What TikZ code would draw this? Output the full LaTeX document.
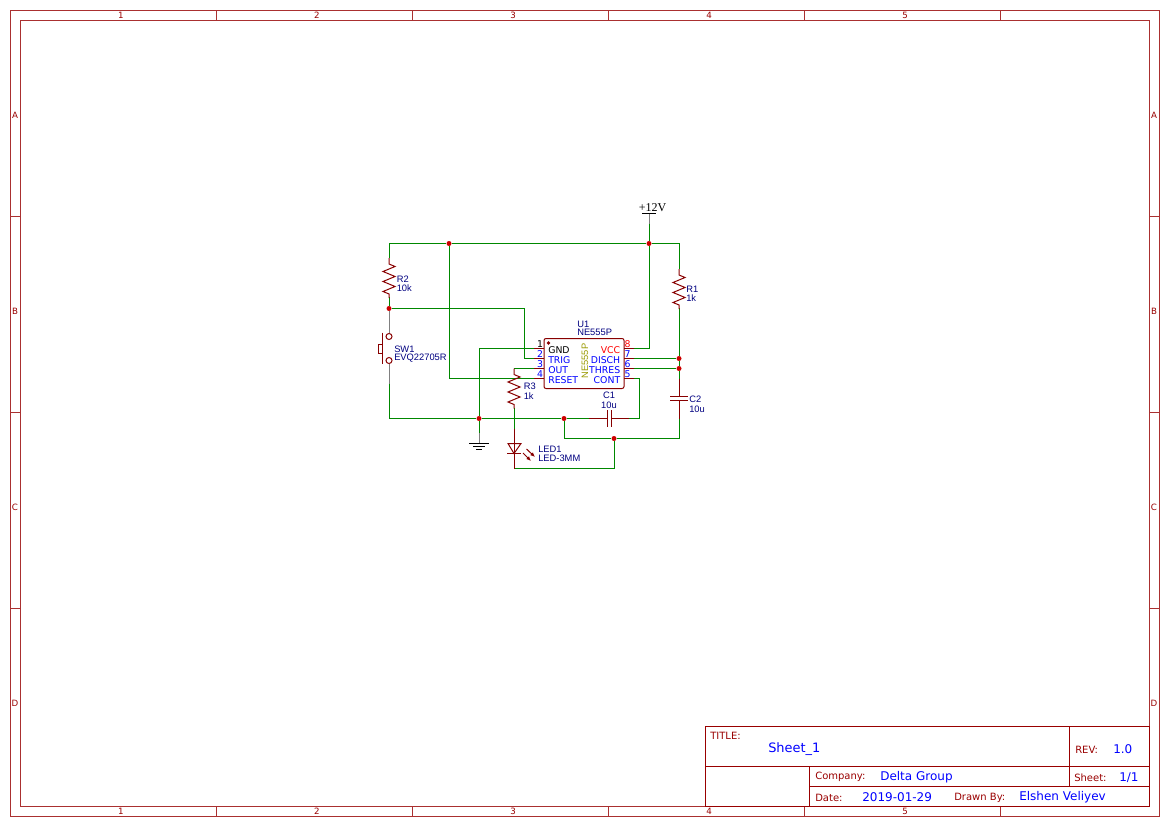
\documentclass[tikz,border=0pt]{standalone}
\usepackage{fontspec}
\usetikzlibrary{arrows.meta,backgrounds}
\setmainfont{DejaVu Sans}
\newfontfamily\partfont{Liberation Sans}
\newfontfamily\railfont{Liberation Serif}
\definecolor{framered}{HTML}{990000}
\definecolor{sheetred}{HTML}{AA3030}
\definecolor{wiregreen}{HTML}{008800}
\definecolor{dotred}{HTML}{CC0000}
\definecolor{partred}{HTML}{880000}
\definecolor{namenavy}{HTML}{000080}
\definecolor{valueblue}{HTML}{0000FF}
\definecolor{pinolive}{HTML}{999900}
\tikzset{
  framel/.style={draw=framered, line width=0.75pt},
  sheetl/.style={draw=sheetred, line width=0.75pt},
  wire/.style={draw=wiregreen, line width=0.75pt},
  part/.style={draw=partred, line width=0.75pt},
  lead/.style={draw=gray, line width=0.75pt},
  junction/.style={circle, fill=dotred, inner sep=0pt, minimum size=3.75pt},
  txt/.style={inner sep=0pt, anchor=west},
  ticklabel/.style={inner sep=0pt, text=framered, font=\fontsize{6.5}{7}\selectfont},
  partname/.style={txt, text=namenavy, font=\partfont\fontsize{7}{8}\selectfont},
  pinname/.style={inner sep=0pt, text=valueblue, font=\fontsize{7}{8}\selectfont},
  pinnum/.style={inner sep=0pt, text=valueblue, font=\fontsize{7}{8}\selectfont},
  blocklabel/.style={txt, text=framered, font=\fontsize{7.5}{9}\selectfont},
  blockvalue/.style={txt, text=valueblue, font=\fontsize{9}{10}\selectfont},
  resistor/.pic={\draw[part] (0,0) -- ++(0,6) -- ++(6,2.5) -- ++(-12,5) -- ++(12,5) -- ++(-12,5) -- ++(12,5) -- ++(-12,5) -- ++(6,2.5) -- ++(0,4);}
}
\begin{document}
\begin{tikzpicture}[x=0.75pt, y=-0.75pt]
    \useasboundingbox (0,0) rectangle (1169,827);

    % sheet frame
    \draw[sheetl] (10,10.5) rectangle (1159,816.5);
    \draw[sheetl] (20,20.5) rectangle (1149,806.5);
    \foreach \x in {216,412,608,804,1000} {
        \draw[sheetl] (\x,10.5) -- (\x,20.5);
        \draw[sheetl] (\x,806.5) -- (\x,816.5);
    }
    \foreach \y in {216.5,412.5,608.5} {
        \draw[sheetl] (10,\y) -- (20,\y);
        \draw[sheetl] (1149,\y) -- (1159,\y);
    }
    \foreach \n/\x in {1/121,2/317,3/513,4/709,5/905} {
        \node[ticklabel] (top\n) at (\x,15.5) {\n};
        \node[ticklabel] (bot\n) at (\x,811.5) {\n};
    }
    \foreach \n/\y in {A/115.5,B/311.5,C/507.5,D/703.5} {
        \node[ticklabel] (left\n) at (15,\y) {\n};
        \node[ticklabel] (right\n) at (1154,\y) {\n};
    }

    % title block
    \draw[framel] (705,726.5) rectangle (1149,806.5);
    \draw[framel] (705,766.5) -- (1149,766.5);
    \draw[framel] (809.5,786.5) -- (1149,786.5);
    \draw[framel] (809.5,766.5) -- (809.5,806.5);
    \draw[framel] (1069.5,726.5) -- (1069.5,786.5);
    \node[blocklabel] (lbltitle) at (710,735.5) {TITLE:};
    \node[txt, text=valueblue, font=\fontsize{9.7}{11}\selectfont] (valtitle) at (768,749) {Sheet\_1};
    \node[blocklabel] (lblrev) at (1075,749.5) {REV:};
    \node[blockvalue] (valrev) at (1113,749.5) {1.0};
    \node[blocklabel] (lblcompany) at (815,777) {Company:};
    \node[blockvalue] (valcompany) at (880,777) {Delta Group};
    \node[blocklabel] (lblsheet) at (1074,778) {Sheet:};
    \node[blockvalue] (valsheet) at (1119,778) {1/1};
    \node[blocklabel] (lbldate) at (815,797.5) {Date:};
    \node[blockvalue] (valdate) at (862,797.5) {2019-01-29};
    \node[blocklabel] (lbldrawn) at (954,797.5) {Drawn By:};
    \node[blockvalue] (valdrawn) at (1019,797.5) {Elshen Veliyev};

    % junctions
    \node[junction] (jtopa) at (449,243.5) {};
    \node[junction] (jtopb) at (649,243.5) {};
    \node[junction] (jsw) at (389,308.5) {};
    \node[junction] (jdis) at (679,358.5) {};
    \node[junction] (jthr) at (679,368.5) {};
    \node[junction] (jgnd) at (479,418.5) {};
    \node[junction] (jcap) at (564,418.5) {};
    \node[junction] (jled) at (614,438.5) {};

    % chip
    \node[draw=partred, line width=0.75pt, rounded corners=1.5pt, minimum width=60pt, minimum height=37.5pt, inner sep=0pt] (u1) at (584,363.5) {};
    \foreach \n/\y in {1/348.5,2/358.5,3/368.5,4/378.5} {
        \coordinate (pin\n) at (534,\y);
        \draw[part] (pin\n) -- (544,\y);
    }
    \foreach \n/\y in {8/348.5,7/358.5,6/368.5,5/378.5} {
        \coordinate (pin\n) at (634,\y);
        \draw[part] (pin\n) -- (624,\y);
    }
    \fill[partred] (548.5,343) circle (1.9);
    \node[pinname, anchor=west, text=black] (lblgnd) at (548,350) {GND};
    \node[pinname, anchor=west] (lbltrig) at (548,360) {TRIG};
    \node[pinname, anchor=west] (lblout) at (548,370) {OUT};
    \node[pinname, anchor=west] (lblreset) at (548,380) {RESET};
    \node[pinname, anchor=east, text=red] (lblvcc) at (620.5,350) {VCC};
    \node[pinname, anchor=east] (lbldisch) at (620.5,360) {DISCH};
    \node[pinname, anchor=east] (lblthres) at (620.5,370) {THRES};
    \node[pinname, anchor=east] (lblcont) at (620.5,380) {CONT};
    \node[inner sep=0pt, rotate=90, text=pinolive, font=\partfont\fontsize{7}{8}\selectfont] (lblchip) at (585,361) {NE555P};
    \node[pinnum, text=black] (num1) at (540,344) {1};
    \foreach \n/\y in {2/354,3/364,4/374} {
        \node[pinnum] (num\n) at (540,\y) {\n};
    }
    \node[pinnum, text=red] (num8) at (627.5,344) {8};
    \foreach \n/\y in {7/354,6/364,5/374} {
        \node[pinnum] (num\n) at (627.5,\y) {\n};
    }
    \node[partname] (u1name) at (577,324) {U1};
    \node[partname] (u1part) at (577,332.5) {NE555P};

    % resistors
    \coordinate (r1top) at (679,269);
    \coordinate (r1bot) at (679,308);
    \coordinate (r2top) at (389,258);
    \coordinate (r2bot) at (389,297);
    \coordinate (r3top) at (514,368.5);
    \coordinate (r3bot) at (514,407.5);
    \pic at (r1top) {resistor};
    \pic at (r2top) {resistor};
    \pic at (r3top) {resistor};
    \node[partname] (r1name) at (686,289) {R1};
    \node[partname] (r1val) at (686,298.5) {1k};
    \node[partname] (r2name) at (396.5,279.5) {R2};
    \node[partname] (r2val) at (396.5,288.5) {10k};
    \node[partname] (r3name) at (523.5,386.5) {R3};
    \node[partname] (r3val) at (523.5,396) {1k};

    % capacitors
    \coordinate (c1l) at (589,418.5);
    \coordinate (c1r) at (629,418.5);
    \coordinate (c2t) at (679,378.5);
    \coordinate (c2b) at (679,418.5);
    \draw[part] (c1l) -- (607,418.5) (611,418.5) -- (c1r);
    \draw[part] (607,410) -- (607,427) (611,410) -- (611,427);
    \draw[part] (c2t) -- (679,396.5) (679,400.5) -- (c2b);
    \draw[part] (670,396.5) -- (688,396.5) (670,400.5) -- (688,400.5);
    \node[partname, anchor=center] (c1name) at (609,395.5) {C1};
    \node[partname, anchor=center] (c1val) at (609,405) {10u};
    \node[partname] (c2name) at (689,399) {C2};
    \node[partname] (c2val) at (689,409) {10u};

    % led
    \coordinate (ledt) at (514,428.5);
    \coordinate (ledb) at (514,468.5);
    \draw[part] (ledt) -- (ledb);
    \draw[part] (508,443.5) -- (521,443.5) -- (514,453.5) -- cycle;
    \draw[part] (507,453.5) -- (521,453.5);
    \draw[part, -{Latex[length=3.5pt,width=3pt]}] (526.5,449) -- (535,457);
    \draw[part, -{Latex[length=3.5pt,width=3pt]}] (523,453) -- (531,461);
    \node[partname] (ledname) at (538,449) {LED1};
    \node[partname] (ledval) at (538,458) {LED-3MM};

    % switch
    \coordinate (swb) at (389,383.5);
    \node[draw=partred, circle, line width=0.75pt, inner sep=0pt, minimum size=4.5pt] (swa) at (389,336.5) {};
    \node[draw=partred, circle, line width=0.75pt, inner sep=0pt, minimum size=4.5pt] (swc) at (389,360.5) {};
    \draw[partred, line width=1.2pt] (382.5,332.5) -- (382.5,364);
    \draw[part] (382.5,344) -- (378.5,344) -- (378.5,353) -- (382.5,353);
    \node[partname] (swname) at (394,349) {SW1};
    \node[partname] (swval) at (394,358) {EVQ22705R};

    % power and ground
    \coordinate (vcctop) at (649,213.5);
    \coordinate (vccleg) at (649,223.5);
    \draw[black, line width=0.75pt] (642,213.5) -- (656,213.5);
    \node[inner sep=0pt, font=\railfont\fontsize{9}{10}\selectfont] (vccname) at (652.5,208) {+12V};
    \coordinate (gndleg) at (479,433);
    \coordinate (gndbar) at (479,443.5);
    \draw[black, line width=0.75pt] (469,443.5) -- (489,443.5);
    \draw[black, line width=0.75pt] (473,446.5) -- (485,446.5);
    \draw[black, line width=0.75pt] (476,449.5) -- (482,449.5);

    % wires
    \begin{scope}[on background layer]
        \draw[lead] (jsw) -- (swa);
        \draw[lead] (swc) -- (swb);
        \draw[lead] (vcctop) -- (vccleg);
        \draw[lead] (gndleg) -- (gndbar);
        \draw[wire] (r2top) |- (jtopa) -- (jtopb) -| (r1top);
        \draw[wire] (r2bot) -- (jsw);
        \draw[wire] (jsw) -| (524,358.5) -- (pin2);
        \draw[wire] (swb) |- (jgnd);
        \draw[wire] (jgnd) -- (jcap) -- (c1l);
        \draw[wire] (jtopa) |- (pin4);
        \draw[wire] (pin1) -| (jgnd);
        \draw[wire] (jgnd) -- (gndleg);
        \draw[wire] (pin3) -| (r3top);
        \draw[wire] (r3bot) -- (ledt);
        \draw[wire] (ledb) -| (jled);
        \draw[wire] (jcap) |- (jled) -| (c2b);
        \draw[wire] (pin8) -| (jtopb);
        \draw[wire] (vccleg) -- (jtopb);
        \draw[wire] (pin7) -- (jdis);
        \draw[wire] (pin6) -- (jthr);
        \draw[wire] (r1bot) -- (jdis) -- (jthr) -- (c2t);
        \draw[wire] (pin5) -| (639,418.5) -- (c1r);
    \end{scope}
\end{tikzpicture}
\end{document}
